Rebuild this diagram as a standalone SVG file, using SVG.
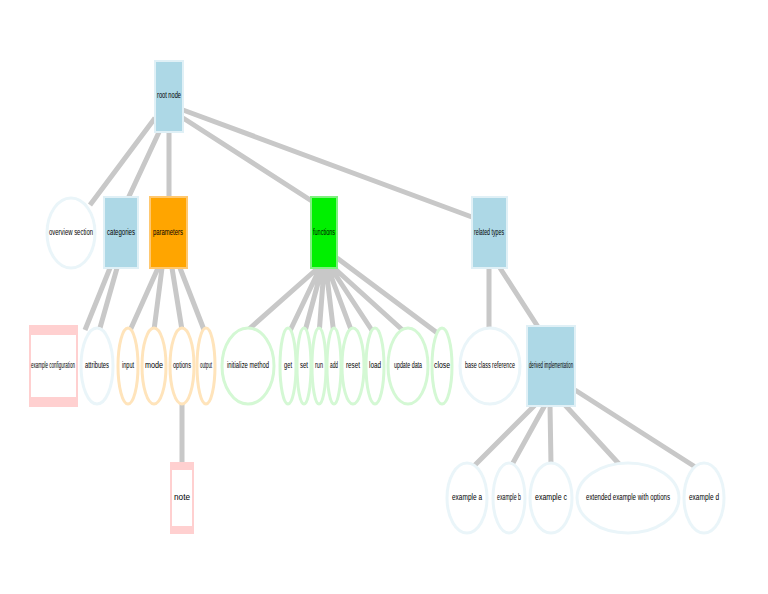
<svg xmlns="http://www.w3.org/2000/svg" width="768" height="594" viewBox="0 0 768 594">
<style>
.e{stroke:#c8c8c8;stroke-width:5;fill:none}
.t{font-family:"Liberation Sans Narrow","Liberation Sans",sans-serif;font-size:9px;fill:#000;text-anchor:middle;dominant-baseline:middle}
.bl{fill:#add8e6;stroke:#e0f0f6;stroke-width:2}
.or{fill:#ffa500;stroke:#ffc870;stroke-width:2}
.gr{fill:#00f000;stroke:#80f080;stroke-width:2}
.ebl{fill:#fff;stroke:#eaf5f9;stroke-width:3}
.eor{fill:#fff;stroke:#ffe4bb;stroke-width:3}
.egr{fill:#fff;stroke:#d4f8d4;stroke-width:3}
.pk{fill:#fff;stroke:#ffd0d0;stroke-width:2}
</style>
<rect width="768" height="594" fill="#fff"/>
<g id="connectors">
<path class="e" d="M155 118L90 205M160 130L125 205M169 132L169 197M183 118L318 205M183 110L480 220"/>
<path class="e" d="M110 268L85 330M117 268L98 335M158 268L128 335M162 268L154 330M172 268L182 330M180 268L206 335"/>
<path class="e" d="M318 268L248 330M320 268L288 335M322 268L304 335M324 268L319 335M326 268L334 335M328 268L353 335M331 268L375 335M334 268L408 335M337 258L440 335"/>
<path class="e" d="M489 268L489 335M500 268L540 330M182 398L182 466"/>
<path class="e" d="M540 400L470 470M545 405L509 470M550 405L551 465M565 405L620 465M575 390L700 470"/>
</g>
<g id="n0"><rect class="bl" x="155" y="61" width="28" height="71"/><text class="t" x="169" y="96" textLength="24" lengthAdjust="spacingAndGlyphs">root node</text></g>
<g id="n1"><ellipse class="ebl" cx="71" cy="233" rx="24" ry="35"/><text class="t" x="71" y="233" textLength="44" lengthAdjust="spacingAndGlyphs">overview section</text></g>
<g id="n2"><rect class="bl" x="104" y="197" width="34" height="71"/><text class="t" x="121" y="233" textLength="28" lengthAdjust="spacingAndGlyphs">categories</text></g>
<g id="n3"><rect class="or" x="150" y="197" width="37" height="71"/><text class="t" x="168" y="233" textLength="30" lengthAdjust="spacingAndGlyphs">parameters</text></g>
<g id="n4"><rect class="gr" x="311" y="197" width="26" height="71"/><text class="t" x="324" y="233" textLength="22" lengthAdjust="spacingAndGlyphs">functions</text></g>
<g id="n5"><rect class="bl" x="472" y="197" width="35" height="71"/><text class="t" x="489" y="233" textLength="30" lengthAdjust="spacingAndGlyphs">related types</text></g>
<g id="n6"><rect class="pk" x="30" y="326" width="47" height="80"/><rect x="30" y="326" width="47" height="9" fill="#ffd0d0"/><rect x="30" y="397" width="47" height="9" fill="#ffd0d0"/><text class="t" x="53" y="366" textLength="44" lengthAdjust="spacingAndGlyphs">example configuration</text></g>
<g id="n7"><ellipse class="ebl" cx="97" cy="366" rx="16" ry="38"/><text class="t" x="97" y="366" textLength="24" lengthAdjust="spacingAndGlyphs">attributes</text></g>
<g id="n8"><ellipse class="eor" cx="128" cy="366" rx="10" ry="38"/><text class="t" x="128" y="366" textLength="12" lengthAdjust="spacingAndGlyphs">input</text></g>
<g id="n9"><ellipse class="eor" cx="154" cy="366" rx="12" ry="38"/><text class="t" x="154" y="366" textLength="18" lengthAdjust="spacingAndGlyphs">mode</text></g>
<g id="n10"><ellipse class="eor" cx="182" cy="366" rx="12" ry="38"/><text class="t" x="182" y="366" textLength="18" lengthAdjust="spacingAndGlyphs">options</text></g>
<g id="n11"><ellipse class="eor" cx="206" cy="366" rx="9" ry="38"/><text class="t" x="206" y="366" textLength="12" lengthAdjust="spacingAndGlyphs">output</text></g>
<g id="n12"><ellipse class="egr" cx="248" cy="366" rx="26" ry="38"/><text class="t" x="248" y="366" textLength="42" lengthAdjust="spacingAndGlyphs">initialize method</text></g>
<g id="n13"><ellipse class="egr" cx="288" cy="366" rx="8" ry="38"/><text class="t" x="288" y="366" textLength="8" lengthAdjust="spacingAndGlyphs">get</text></g>
<g id="n14"><ellipse class="egr" cx="304" cy="366" rx="7" ry="38"/><text class="t" x="304" y="366" textLength="8" lengthAdjust="spacingAndGlyphs">set</text></g>
<g id="n15"><ellipse class="egr" cx="319" cy="366" rx="7" ry="38"/><text class="t" x="319" y="366" textLength="8" lengthAdjust="spacingAndGlyphs">run</text></g>
<g id="n16"><ellipse class="egr" cx="334" cy="366" rx="7" ry="38"/><text class="t" x="334" y="366" textLength="8" lengthAdjust="spacingAndGlyphs">add</text></g>
<g id="n17"><ellipse class="egr" cx="353" cy="366" rx="11" ry="38"/><text class="t" x="353" y="366" textLength="14" lengthAdjust="spacingAndGlyphs">reset</text></g>
<g id="n18"><ellipse class="egr" cx="375" cy="366" rx="9" ry="38"/><text class="t" x="375" y="366" textLength="12" lengthAdjust="spacingAndGlyphs">load</text></g>
<g id="n19"><ellipse class="egr" cx="408" cy="366" rx="20" ry="38"/><text class="t" x="408" y="366" textLength="28" lengthAdjust="spacingAndGlyphs">update data</text></g>
<g id="n20"><ellipse class="egr" cx="442" cy="366" rx="10" ry="38"/><text class="t" x="442" y="366" textLength="16" lengthAdjust="spacingAndGlyphs">close</text></g>
<g id="n21"><ellipse class="ebl" cx="490" cy="366" rx="30" ry="38"/><text class="t" x="490" y="366" textLength="50" lengthAdjust="spacingAndGlyphs">base class reference</text></g>
<g id="n22"><rect class="bl" x="527" y="326" width="48" height="80"/><text class="t" x="551" y="366" textLength="44" lengthAdjust="spacingAndGlyphs">derived implementation</text></g>
<g id="n23"><rect class="pk" x="171" y="463" width="22" height="70"/><rect x="171" y="463" width="22" height="7" fill="#ffd0d0"/><rect x="171" y="526" width="22" height="7" fill="#ffd0d0"/><text class="t" x="182" y="498" textLength="16" lengthAdjust="spacingAndGlyphs">note</text></g>
<g id="n24"><ellipse class="ebl" cx="467" cy="498" rx="20" ry="35"/><text class="t" x="467" y="498" textLength="30" lengthAdjust="spacingAndGlyphs">example a</text></g>
<g id="n25"><ellipse class="ebl" cx="509" cy="498" rx="16" ry="35"/><text class="t" x="509" y="498" textLength="24" lengthAdjust="spacingAndGlyphs">example b</text></g>
<g id="n26"><ellipse class="ebl" cx="551" cy="498" rx="21" ry="35"/><text class="t" x="551" y="498" textLength="32" lengthAdjust="spacingAndGlyphs">example c</text></g>
<g id="n27"><ellipse class="ebl" cx="628" cy="498" rx="51" ry="35"/><text class="t" x="628" y="498" textLength="84" lengthAdjust="spacingAndGlyphs">extended example with options</text></g>
<g id="n28"><ellipse class="ebl" cx="704" cy="498" rx="20" ry="35"/><text class="t" x="704" y="498" textLength="30" lengthAdjust="spacingAndGlyphs">example d</text></g>
</svg>
